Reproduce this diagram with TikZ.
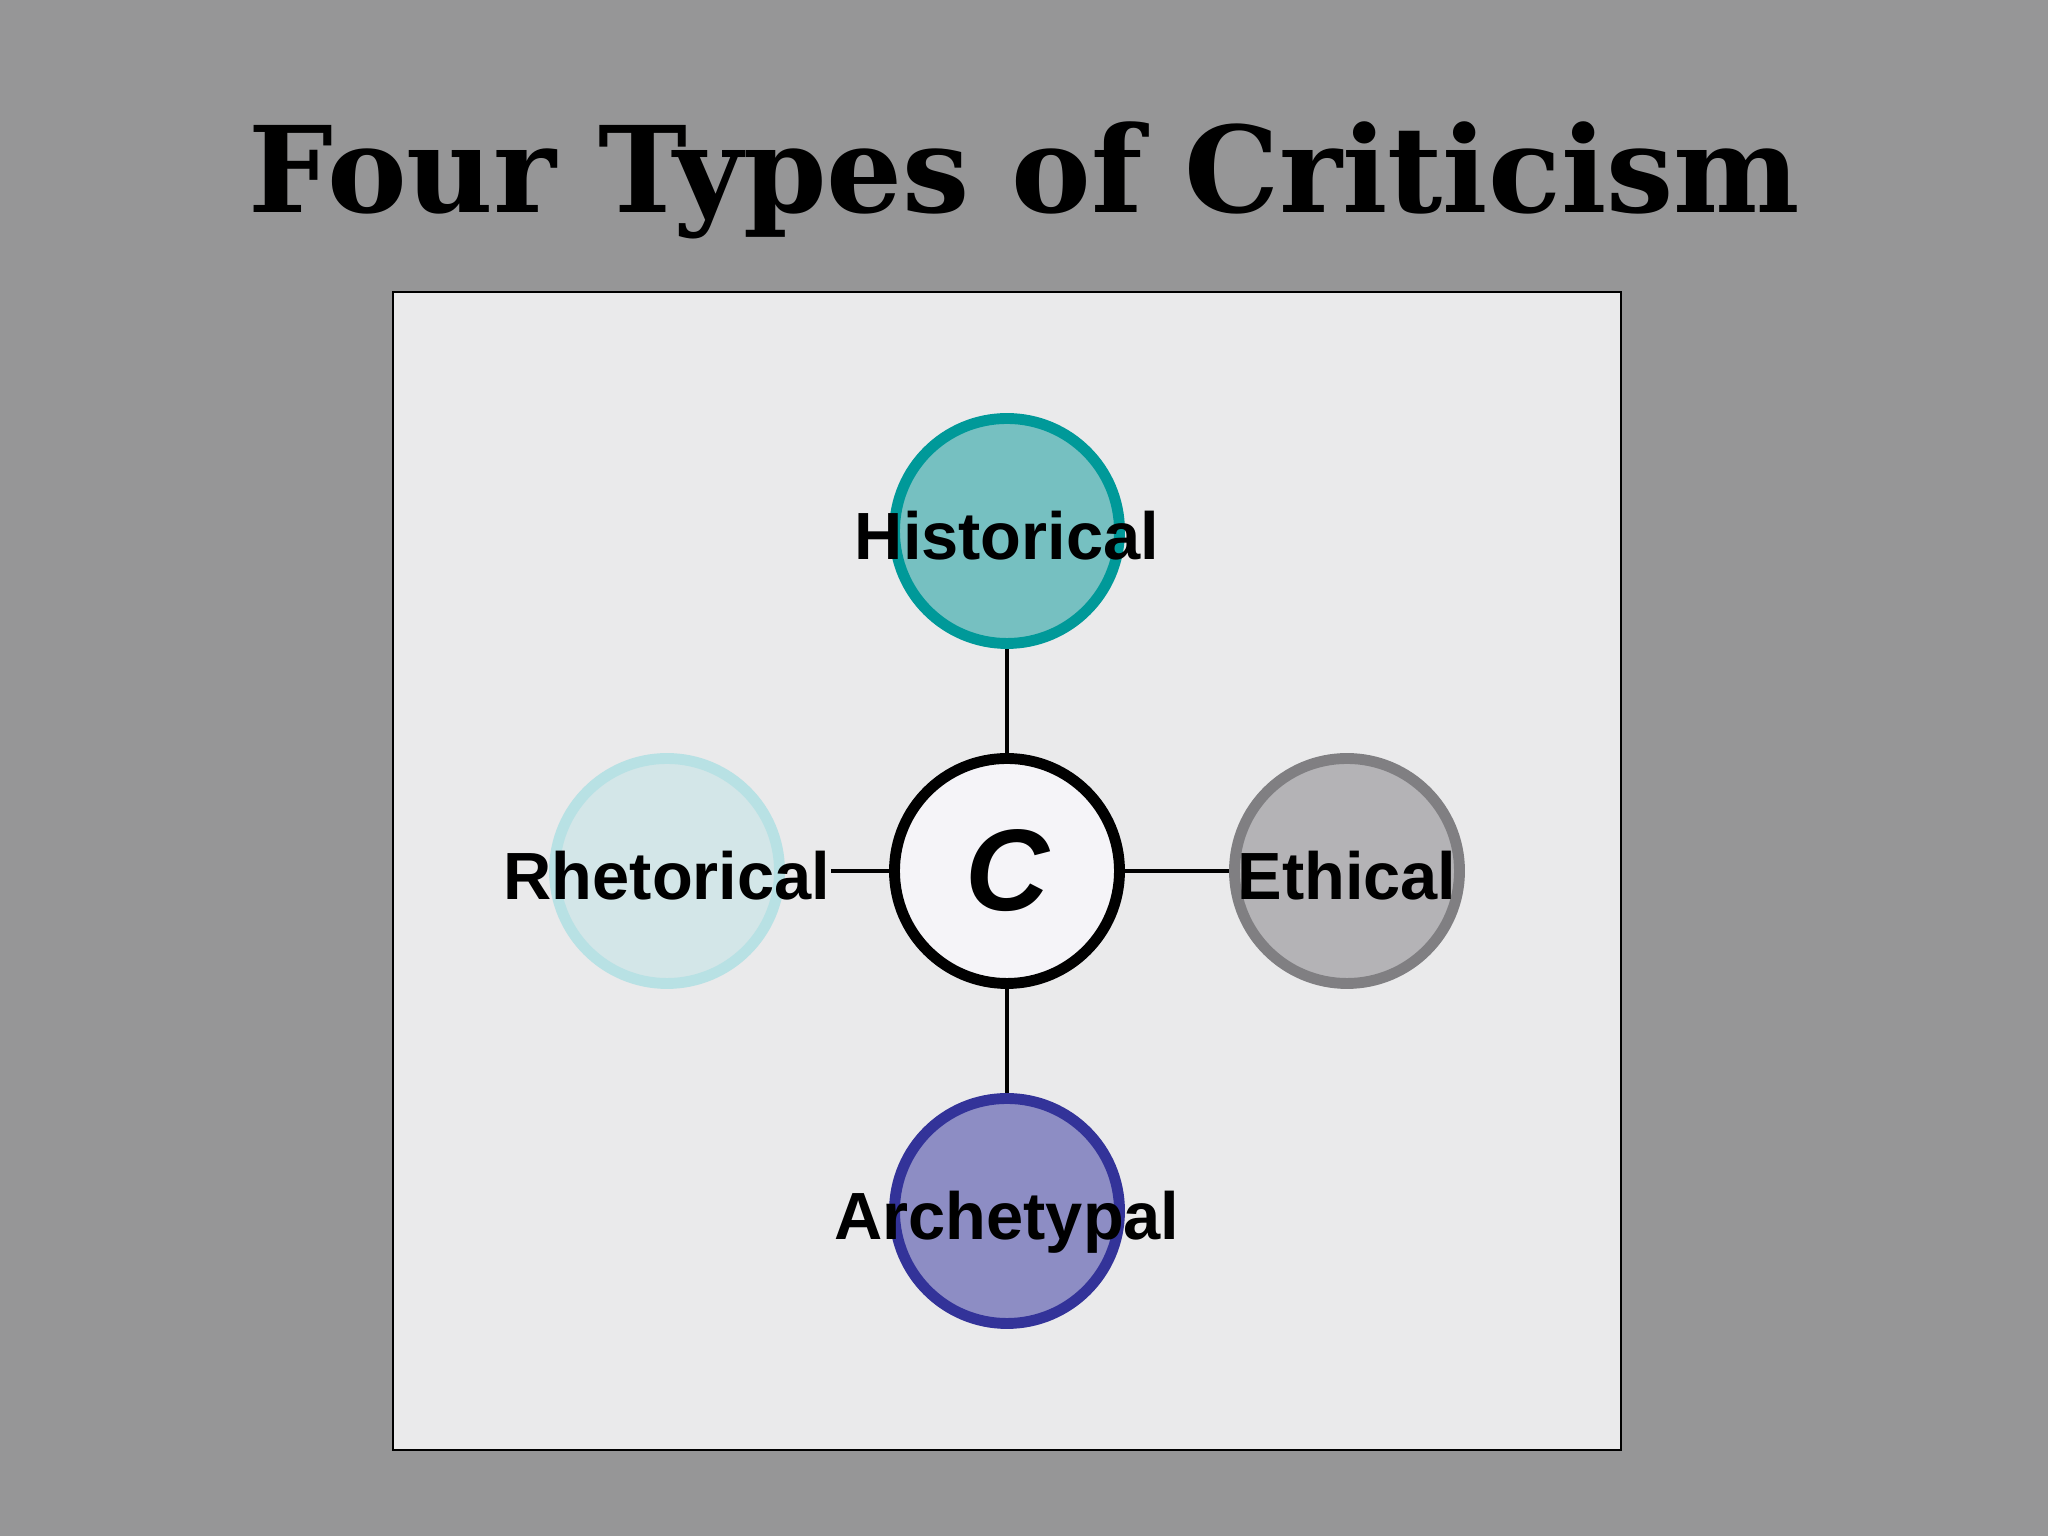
\documentclass[tikz,border=0pt]{standalone}
\usepackage{fontspec}
\setmainfont{Liberation Sans}
\newfontfamily\titlefont{DejaVu Serif}

\definecolor{slidegray}{RGB}{150,150,151}
\definecolor{panelgray}{RGB}{234,234,235}
\definecolor{histfill}{RGB}{118,192,193}
\definecolor{histline}{RGB}{0,153,153}
\definecolor{rhetfill}{RGB}{211,230,232}
\definecolor{rhetline}{RGB}{184,225,228}
\definecolor{ethfill}{RGB}{180,179,182}
\definecolor{ethline}{RGB}{128,127,130}
\definecolor{archfill}{RGB}{141,141,196}
\definecolor{archline}{RGB}{51,51,153}
\definecolor{corefill}{RGB}{245,244,248}

\begin{document}
\begin{tikzpicture}[node distance=3.4cm,
  type node/.style={circle,minimum size=2.25cm,line width=3.1pt,inner sep=0pt},
  type label/.style={font=\fontsize{19}{19}\selectfont\bfseries,inner sep=0pt,anchor=base,yshift=-0.29cm}]

  \useasboundingbox (0,0) rectangle (20.48,15.36);
  \fill[slidegray] (0,0) rectangle (20.48,15.36);
  \filldraw[fill=panelgray,draw=black,line width=0.8pt] (3.93,0.86) rectangle (16.21,12.44);

  \node[anchor=base,font=\titlefont\bfseries\fontsize{34}{34}\selectfont] (title) at (10.245,13.23) {Four Types of Criticism};

  \node[type node,fill=corefill,draw=black] (c) at (10.07,6.65) {\fontsize{33}{33}\selectfont\bfseries\itshape\raisebox{-0.7ex}{C}};
  \node[type node,fill=histfill,draw=histline] (hist) [above of=c] {};
  \node[type node,fill=rhetfill,draw=rhetline] (rhet) [left of=c] {};
  \node[type node,fill=ethfill,draw=ethline] (eth) [right of=c] {};
  \node[type node,fill=archfill,draw=archline] (arch) [below of=c] {};

  \node[type label] (histlbl) at (hist) {Historical};
  \node[type label] (rhetlbl) at (rhet) {Rhetorical};
  \node[type label] (ethlbl) at (eth) {Ethical};
  \node[type label] (archlbl) at (arch) {Archetypal};

  \path[line width=1.3pt]
    (c) edge (hist)
    (c) edge (eth)
    (c) edge (arch)
    (c) edge (rhetlbl.east |- c);
\end{tikzpicture}
\end{document}
